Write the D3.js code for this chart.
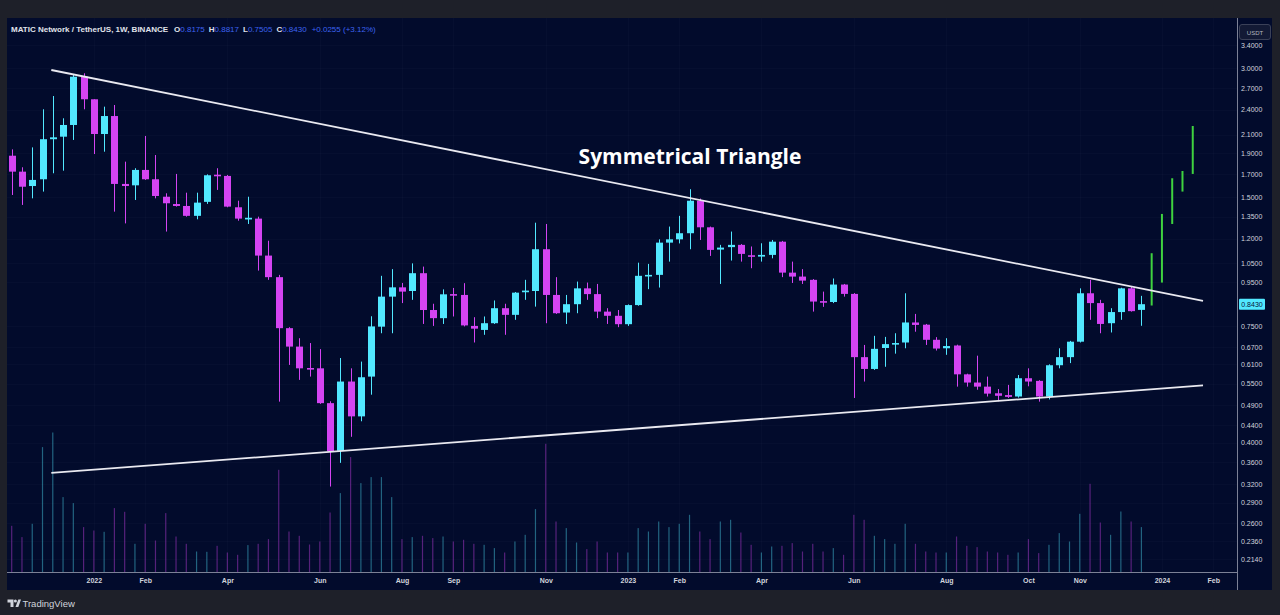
<!DOCTYPE html>
<html><head><meta charset="utf-8">
<script src="https://cdn.jsdelivr.net/npm/d3@7"></script>
<style>html,body{margin:0;padding:0;background:#1e2029;overflow:hidden}</style>
</head><body><svg id="c" width="1280" height="615"></svg>
<script>
// ---------- DATA ----------
const symbolName = "MATIC Network / TetherUS, 1W, BINANCE";
const annotation = "Symmetrical Triangle";
const quoteUnit = "USDT";
const firstWeek = "2021-11-08"; // weekly candles, one per week from here

const openP = [
 1.874,1.720,1.592,1.651,2.048,2.076,2.211,2.867,2.539,2.106,
 2.320,1.610,1.598,1.736,1.651,1.503,1.445,1.430,1.356,1.462,
 1.692,1.681,1.420,1.330,1.336,1.095,0.975,0.741,0.671,0.598,
 0.597,0.495,0.383,0.556,0.461,0.571,0.747,0.878,0.923,0.905,
 0.996,0.817,0.782,0.890,0.886,0.750,0.734,0.761,0.825,0.796,
 0.899,0.905,1.133,0.886,0.806,0.843,0.918,0.890,0.810,0.792,
 0.757,0.839,0.981,0.987,1.174,1.195,1.235,1.471,1.275,1.131,
 1.146,1.160,1.097,1.089,1.099,1.180,0.999,0.978,0.961,0.857,
 0.853,0.937,0.891,0.634,0.595,0.666,0.680,0.686,0.764,0.755,
 0.696,0.665,0.675,0.578,0.553,0.541,0.522,0.517,0.513,0.566,
 0.558,0.513,0.607,0.634,0.689,0.894,0.848,0.761,0.808,0.918,
 0.8175];
const highP = [
 1.939,1.761,1.960,2.406,2.584,2.292,2.909,2.920,2.539,2.440,
 2.462,1.815,1.752,2.084,1.881,1.531,1.699,1.536,1.536,1.695,
 1.752,1.690,1.471,1.503,1.350,1.186,0.987,0.745,0.702,0.684,
 0.662,0.500,0.631,0.597,0.619,0.790,0.982,1.018,0.945,1.050,
 1.032,0.845,0.913,0.920,0.944,0.786,0.789,0.860,0.845,0.900,
 0.961,1.307,1.298,0.975,0.886,0.952,0.947,0.940,0.825,0.817,
 0.842,1.054,1.047,1.195,1.280,1.356,1.565,1.488,1.280,1.160,
 1.246,1.165,1.150,1.170,1.191,1.185,1.060,1.018,0.965,0.902,
 0.968,0.940,0.895,0.677,0.711,0.707,0.721,0.894,0.800,0.758,
 0.706,0.702,0.678,0.580,0.639,0.571,0.534,0.546,0.576,0.597,
 0.560,0.610,0.665,0.692,0.918,0.961,0.863,0.825,0.921,0.926,
 0.8817];
const lowP = [
 1.517,1.438,1.490,1.545,1.705,1.729,2.040,2.406,1.891,1.915,
 1.387,1.302,1.477,1.645,1.490,1.246,1.425,1.350,1.331,1.446,
 1.559,1.420,1.321,1.298,1.010,0.961,0.499,0.608,0.561,0.571,
 0.493,0.316,0.359,0.413,0.449,0.518,0.721,0.721,0.848,0.863,
 0.758,0.750,0.758,0.789,0.748,0.686,0.715,0.758,0.715,0.775,
 0.863,0.832,0.761,0.800,0.758,0.803,0.863,0.782,0.758,0.745,
 0.750,0.836,0.914,0.922,1.060,1.169,1.133,1.191,1.093,0.940,
 1.066,1.060,1.023,1.060,1.079,0.975,0.945,0.940,0.810,0.831,
 0.848,0.878,0.509,0.556,0.592,0.602,0.646,0.665,0.727,0.677,
 0.657,0.642,0.541,0.541,0.532,0.513,0.500,0.509,0.510,0.542,
 0.499,0.505,0.597,0.614,0.686,0.775,0.721,0.724,0.775,0.810,
 0.7505];
const closeP = [
 1.720,1.586,1.645,2.048,2.069,2.211,2.867,2.539,2.106,2.320,
 1.610,1.592,1.736,1.651,1.509,1.451,1.430,1.356,1.456,1.687,
 1.681,1.425,1.336,1.342,1.095,0.975,0.741,0.671,0.597,0.595,
 0.495,0.382,0.556,0.461,0.569,0.748,0.878,0.923,0.902,0.996,
 0.817,0.782,0.889,0.886,0.752,0.739,0.761,0.825,0.796,0.897,
 0.907,1.133,0.886,0.803,0.843,0.918,0.890,0.810,0.792,0.757,
 0.839,0.982,0.987,1.174,1.195,1.235,1.471,1.275,1.129,1.143,
 1.160,1.105,1.089,1.099,1.180,0.999,0.978,0.957,0.855,0.853,
 0.937,0.891,0.634,0.595,0.663,0.680,0.684,0.764,0.754,0.696,
 0.664,0.673,0.578,0.553,0.541,0.521,0.515,0.512,0.566,0.556,
 0.513,0.607,0.634,0.689,0.894,0.848,0.758,0.808,0.918,0.812,
 0.8430];
const volumeM = [
 467,354,487,1254,1400,754,694,454,420,407,
 644,607,287,487,320,594,360,287,210,207,
 267,200,177,274,287,334,1027,410,367,280,
 310,600,794,1154,894,954,954,754,334,354,
 367,344,360,310,327,287,277,244,200,310,
 377,634,1287,510,444,300,234,310,200,200,
 200,444,410,510,454,487,577,410,334,510,
 527,400,277,200,260,267,294,210,287,210,
 244,177,577,527,367,334,287,487,287,210,
 200,200,360,267,254,210,200,177,200,334,
 194,277,394,310,587,887,500,377,610,510,
 454];
const prevClose = 0.8175;
// projected path (green bars) after the last candle
const projHigh = [1.109,1.370,1.660,1.726,2.199];
const projLow  = [0.837,0.947,1.298,1.545,1.699];
// triangle trendlines [date, price]
const trendUpper = [["2021-12-05",2.972],["2024-01-29",0.858]];
const trendLower = [["2021-12-05",0.340],["2024-01-29",0.5446]];
// axes
const priceTicks = [3.4,3.0,2.7,2.4,2.1,1.9,1.7,1.5,1.35,1.2,1.05,0.95,0.75,0.67,0.61,0.55,0.49,0.44,0.40,0.36,0.32,0.29,0.26,0.236,0.214];
const timeTickDates = ["2022-01-03","2022-02-07","2022-04-04","2022-06-06","2022-08-01","2022-09-05","2022-11-07","2023-01-02","2023-02-06","2023-04-03","2023-06-05","2023-08-07","2023-10-02","2023-11-06","2024-01-01","2024-02-05"];
const timeTickLabels = ["2022","Feb","Apr","Jun","Aug","Sep","Nov","2023","Feb","Apr","Jun","Aug","Oct","Nov","2024","Feb"];

// ---------- SETUP ----------
const UP = "#52e8ff", DOWN = "#d444f2", PROJ = "#3fd23f";
const BG = "#020b2c", OUTER = "#1e2029", AXTXT = "#d1d4dc";
const svg = d3.select("#c");
const parse = d3.utcParse("%Y-%m-%d");
const t0 = parse(firstWeek);
const candles = openP.map((o,i)=>({date:d3.utcWeek.offset(t0,i), o, h:highP[i], l:lowP[i], c:closeP[i], v:volumeM[i]}));
const proj = projHigh.map((h,i)=>({date:d3.utcWeek.offset(t0,candles.length+i), h, l:projLow[i]}));
const plot = {x0:7, x1:1237, y0:18, y1:572};

const x = d3.scaleUtc().domain([t0, candles[candles.length-1].date]).range([11.7, 1141.4]);
const y = d3.scaleLog().domain([0.214, 3.4]).range([559, 45]);
const yv = d3.scaleLinear().domain([0, 1500]).range([572.5, 422.5]);

svg.append("rect").attr("width",1280).attr("height",615).attr("fill",OUTER);
svg.append("rect").attr("x",7).attr("y",18).attr("width",1265).attr("height",572).attr("fill",BG);

svg.append("clipPath").attr("id","clip").append("rect")
  .attr("x",plot.x0).attr("y",plot.y0).attr("width",plot.x1-plot.x0).attr("height",plot.y1-plot.y0);
const g = svg.append("g").attr("clip-path","url(#clip)");

// faint grid
g.append("g").selectAll("line").data(priceTicks).join("line")
  .attr("x1",plot.x0).attr("x2",plot.x1).attr("y1",d=>Math.round(y(d))+0.5).attr("y2",d=>Math.round(y(d))+0.5)
  .attr("stroke","#ffffff").attr("stroke-opacity",0.02);
g.append("g").selectAll("line").data(timeTickDates).join("line")
  .attr("x1",d=>Math.round(x(parse(d)))+0.5).attr("x2",d=>Math.round(x(parse(d)))+0.5).attr("y1",plot.y0).attr("y2",plot.y1)
  .attr("stroke","#ffffff").attr("stroke-opacity",0.02);

// volume
g.append("g").selectAll("rect").data(candles).join("rect")
  .attr("x",d=>x(d.date)-0.6).attr("width",1.2)
  .attr("y",d=>yv(d.v)).attr("height",d=>yv(0)-yv(d.v))
  .attr("fill",d=>d.c>=d.o?UP:DOWN).attr("fill-opacity",0.4);

// candles
const cg = g.append("g");
cg.selectAll("line").data(candles).join("line")
  .attr("x1",d=>Math.round(x(d.date))+0.5).attr("x2",d=>Math.round(x(d.date))+0.5)
  .attr("y1",d=>y(d.h)).attr("y2",d=>y(d.l))
  .attr("stroke",d=>d.c>=d.o?UP:DOWN).attr("stroke-width",1);
cg.selectAll("rect").data(candles).join("rect")
  .attr("x",d=>Math.round(x(d.date))-3).attr("width",7)
  .attr("y",d=>y(Math.max(d.o,d.c)))
  .attr("height",d=>Math.max(1.6, Math.abs(y(d.o)-y(d.c))))
  .attr("fill",d=>d.c>=d.o?UP:DOWN);

// projection bars
g.append("g").selectAll("line").data(proj).join("line")
  .attr("x1",d=>x(d.date)).attr("x2",d=>x(d.date))
  .attr("y1",d=>y(d.h)).attr("y2",d=>y(d.l))
  .attr("stroke",PROJ).attr("stroke-width",2);

// trendlines
const tl = d3.line().x(d=>x(parse(d[0]))).y(d=>y(d[1]));
[trendUpper, trendLower].forEach(t=>{
  g.append("path").attr("d",tl(t)).attr("fill","none").attr("stroke","#e9e9f0").attr("stroke-width",1.8);
});

// annotation
g.append("text").attr("x",690).attr("y",164).attr("text-anchor","middle")
  .attr("font-family","'Open Sans', 'DejaVu Sans', sans-serif").attr("font-weight",700).attr("font-size",21)
  .attr("fill","#ffffff").text(annotation);

// axis borders
svg.append("line").attr("x1",plot.x1+0.5).attr("x2",plot.x1+0.5).attr("y1",18).attr("y2",590).attr("stroke","#7c8196").attr("stroke-width",1);
svg.append("line").attr("x1",plot.x0).attr("x2",plot.x1).attr("y1",plot.y1+0.5).attr("y2",plot.y1+0.5).attr("stroke","#7c8196").attr("stroke-width",1);

// price axis
const yAxis = d3.axisRight(y).tickValues(priceTicks).tickFormat(d3.format(".4f")).tickSize(0).tickPadding(4);
const ya = svg.append("g").attr("transform",`translate(${plot.x1},0)`).call(yAxis);
ya.select(".domain").remove();
ya.selectAll("text").attr("fill",AXTXT).attr("font-family","'Liberation Sans', Arial, sans-serif").attr("font-size",7);

// current price label
const last = candles[candles.length-1];
svg.append("rect").attr("x",1239).attr("y",y(last.c)-5.5).attr("width",26).attr("height",11).attr("fill",UP).attr("rx",1);
svg.append("text").attr("x",1252).attr("y",y(last.c)+2.5).attr("text-anchor","middle")
  .attr("font-family","'Liberation Sans', Arial, sans-serif").attr("font-size",7).attr("fill","#06123a").text(d3.format(".4f")(last.c));

// unit button
svg.append("rect").attr("x",1239.5).attr("y",24.5).attr("width",31).attr("height",15).attr("rx",2.5)
  .attr("fill","#131a35").attr("stroke","#3b4158");
svg.append("text").attr("x",1255).attr("y",34.5).attr("text-anchor","middle").attr("font-family","'Liberation Sans', Arial, sans-serif")
  .attr("font-size",6).attr("fill","#b2b5be").text(quoteUnit);

// time axis
const xAxis = d3.axisBottom(x).tickValues(timeTickDates.map(parse)).tickFormat((d,i)=>timeTickLabels[i]).tickSize(0).tickPadding(6);
const xa = svg.append("g").attr("transform",`translate(0,${plot.y1})`).call(xAxis);
xa.select(".domain").remove();
xa.selectAll("text").attr("fill",AXTXT).attr("font-family","'Liberation Sans', Arial, sans-serif").attr("font-size",7).attr("font-weight",700);

// header legend
const chg = last.c - prevClose;
const hdr = svg.append("text").attr("x",11).attr("y",32).attr("font-family","'Liberation Sans', Arial, sans-serif").attr("font-size",8).attr("font-weight",700);
hdr.append("tspan").attr("fill","#e0e3eb").text(symbolName);
const vals = [["O",last.o],["H",last.h],["L",last.l],["C",last.c]];
vals.forEach(([k,v],i)=>{
  hdr.append("tspan").attr("fill","#e0e3eb").attr("dx",i===0?6:4).text(k);
  hdr.append("tspan").attr("fill","#3d63f0").attr("font-weight",400).text(d3.format(".4f")(v));
});
hdr.append("tspan").attr("fill","#3d63f0").attr("font-weight",400).attr("dx",5)
  .text(`${chg>=0?"+":""}${d3.format(".4f")(chg)} (${chg>=0?"+":""}${d3.format(".2f")(chg/prevClose*100)}%)`);

// TradingView logo
const lg = svg.append("g").attr("fill","#d1d4dc");
lg.append("path").attr("d","M7.5,599.5h6v7.5h-3v-4.5h-3z");
lg.append("circle").attr("cx",15.4).attr("cy",601).attr("r",1.5);
lg.append("path").attr("d","M15.5,607L18.3,599.5H21L18.3,607z");
svg.append("text").attr("x",22.5).attr("y",607).attr("font-family","'Liberation Sans', Arial, sans-serif")
  .attr("font-size",9.5).attr("fill","#d1d4dc").text("TradingView");
</script></body></html>
